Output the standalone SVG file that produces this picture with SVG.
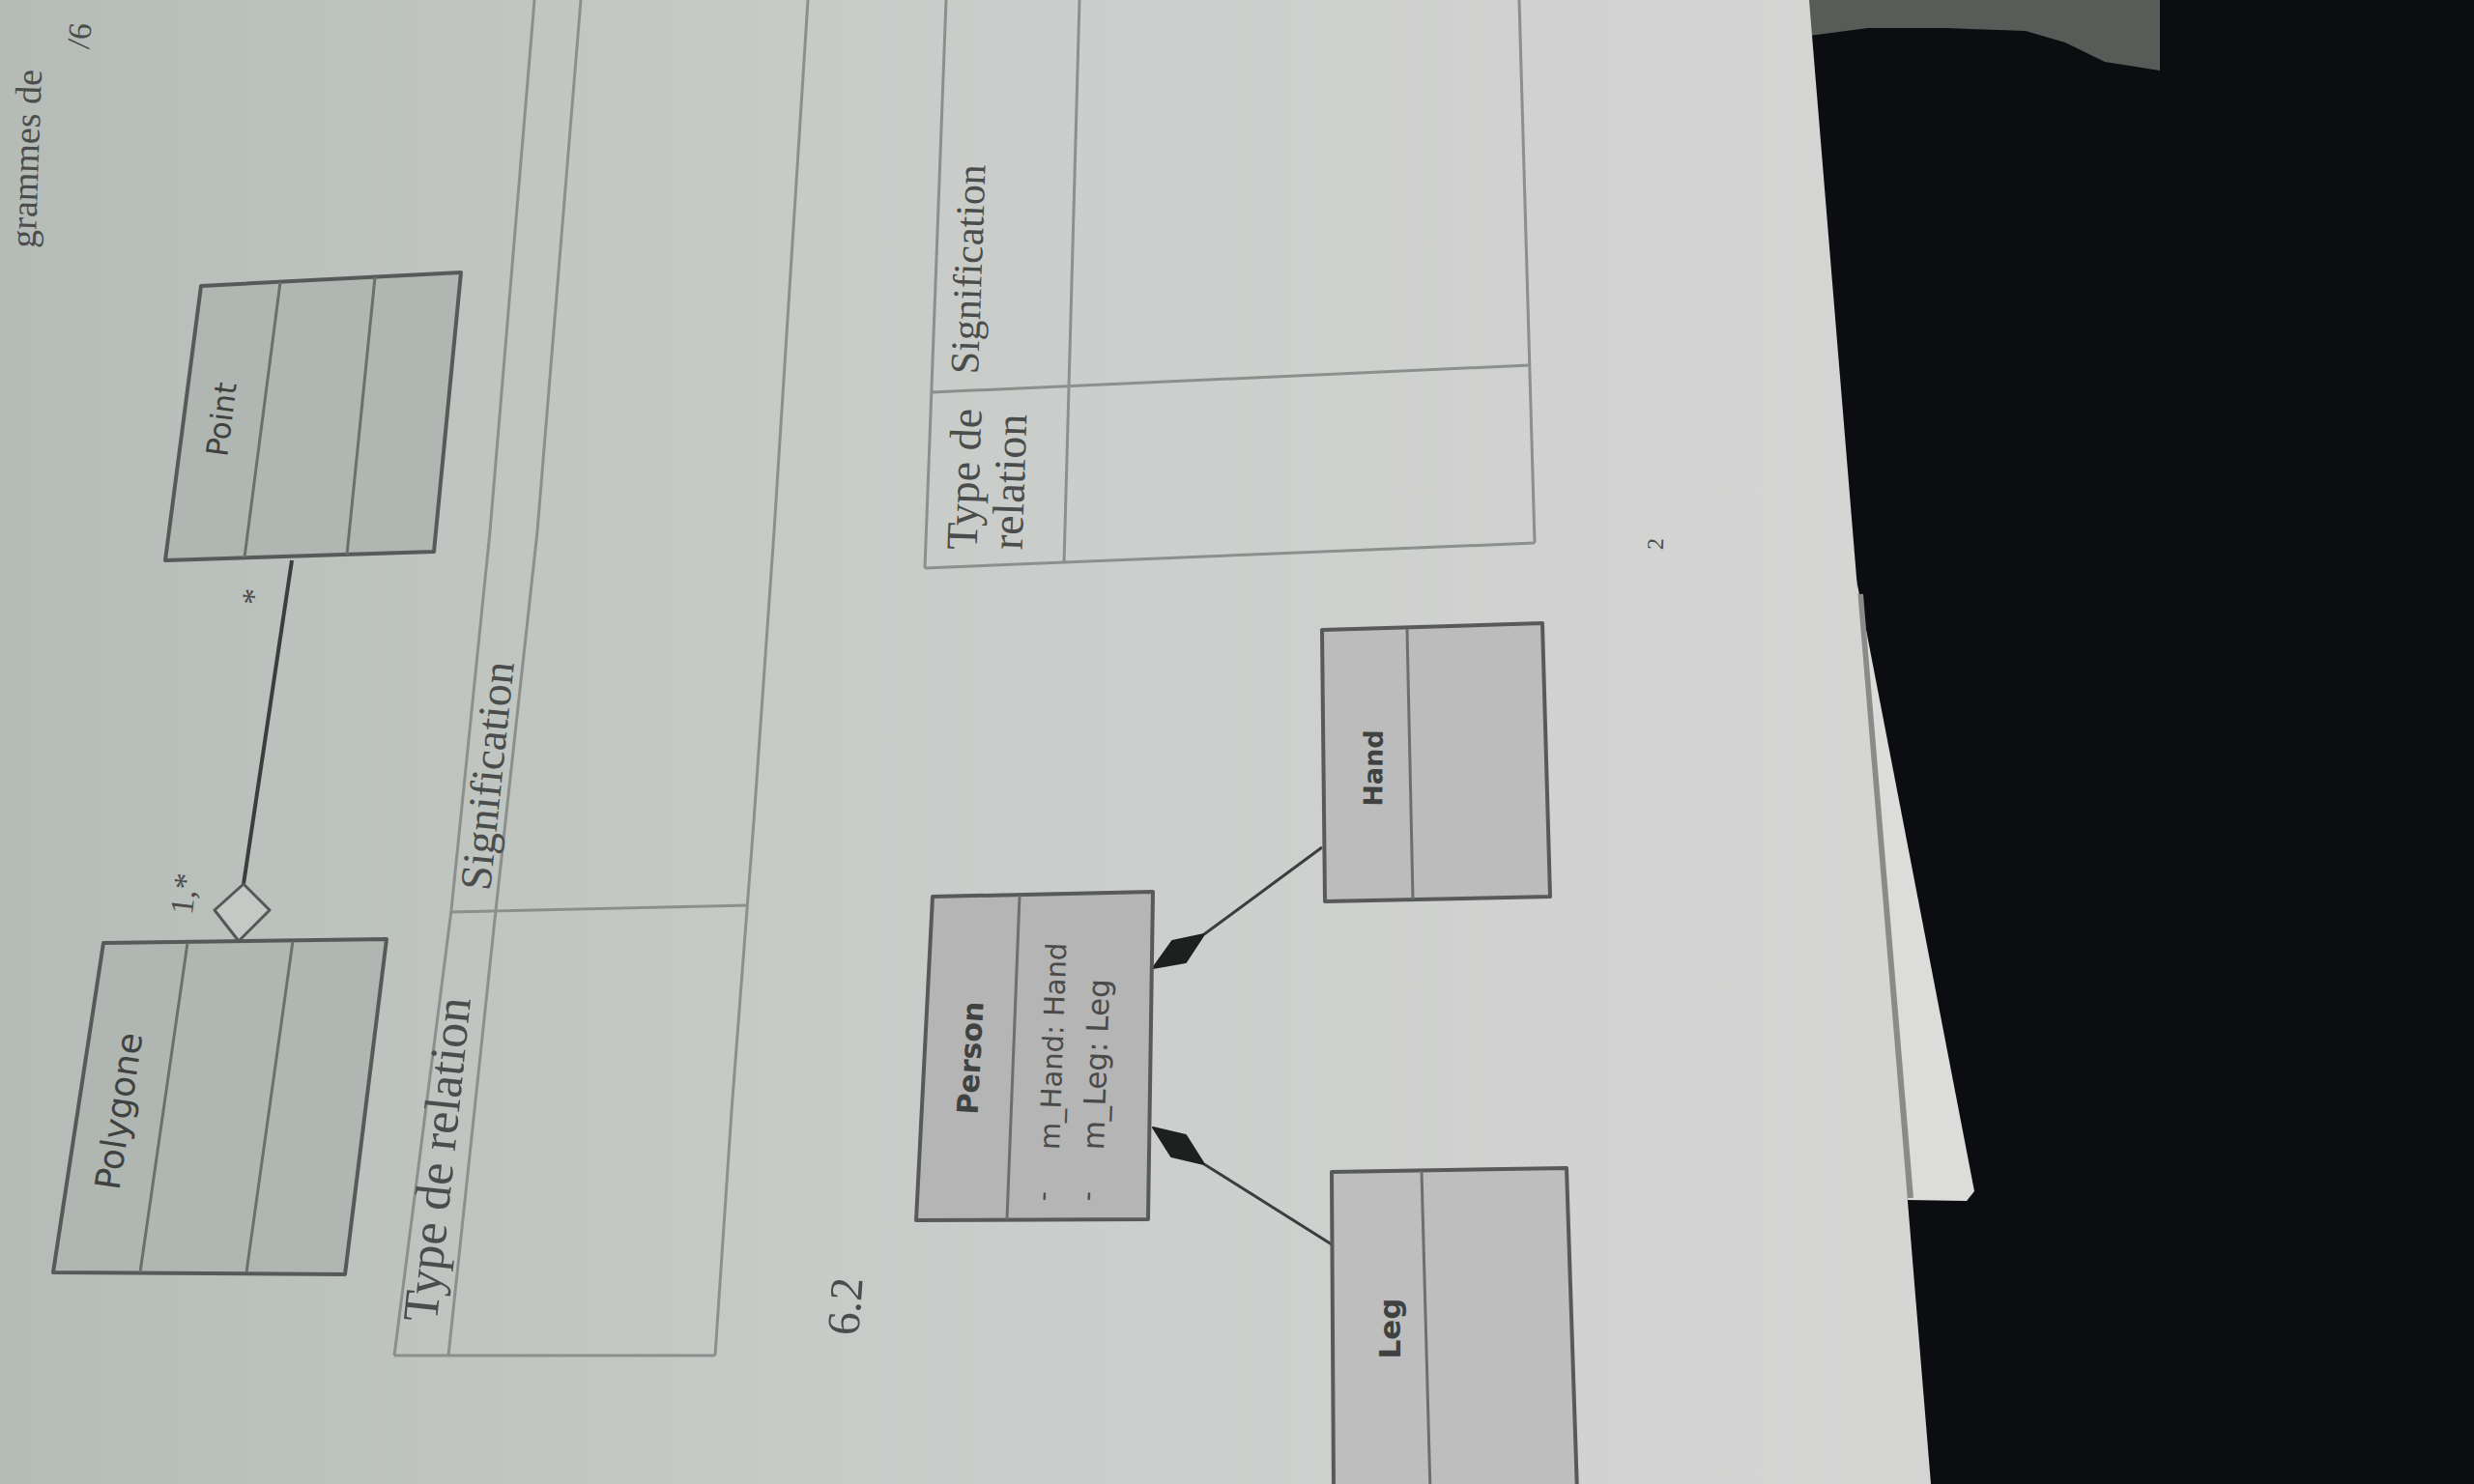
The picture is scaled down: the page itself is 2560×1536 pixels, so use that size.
<svg xmlns="http://www.w3.org/2000/svg" width="2560" height="1536" viewBox="0 0 2560 1536">
  <defs>
    <linearGradient id="paperGrad" gradientUnits="userSpaceOnUse" x1="0" y1="0" x2="1950" y2="0">
      <stop offset="0" stop-color="#b5bcb7"/>
      <stop offset="0.45" stop-color="#c8ccc9"/>
      <stop offset="1" stop-color="#d5d5d4"/>
    </linearGradient>
  </defs>
  <style>
    .tbl { fill: none; stroke: #8b908d; stroke-width: 3; stroke-linejoin: round; }
    .box { stroke: #575a58; stroke-width: 4; stroke-linejoin: round; }
    .div { stroke: #6c706d; stroke-width: 3; }
    .serif { font-family: "Liberation Serif", "DejaVu Serif", serif; fill: #4a4d4b; }
    .lbl { font-family: "DejaVu Sans", "Liberation Sans", sans-serif; font-weight: bold; fill: #3f4240; }
    .lbln { font-family: "DejaVu Sans", "Liberation Sans", sans-serif; fill: #3f4240; }
    .attr { font-family: "DejaVu Sans", "Liberation Sans", sans-serif; fill: #4a4a4a; }
    .conn { fill: none; stroke: #3c3e3d; }
  </style>

  <!-- background -->
  <rect x="0" y="0" width="2560" height="1536" fill="#0b0d10"/>
  <path d="M1872,0 L2235,0 L2235,73 L2178,64 L2137,44 L2096,32 L2014,29 L1933,29 L1872,37 Z" fill="#585c58"/>
  <polygon points="1921,600 2043,1233 2035,1243 1974,1242" fill="#dcdcda"/>
  <line x1="1924" y1="615" x2="1976" y2="1240" stroke="#8a8b89" stroke-width="8"/>
  <polygon points="0,0 1872,0 1998,1536 0,1536" fill="url(#paperGrad)"/>

  <!-- page header -->
  <g id="header">
    <text class="serif" font-size="38" text-anchor="end" dominant-baseline="central" transform="translate(30,72) rotate(-88)">grammes de</text>
    <text class="serif" font-size="34" text-anchor="middle" dominant-baseline="central" transform="translate(82,37) rotate(-84)">/6</text>
  </g>

  <!-- table 1 -->
  <g id="table1">
    <path class="tbl" d="M553,0 L507,550 L467,942 L408,1403"/>
    <path class="tbl" d="M601,0 L556,550 L513,942 L464,1403"/>
    <path class="tbl" d="M836,0 L801,550 L780,850 L757,1150 L740,1403"/>
    <path class="tbl" d="M466,944 L773,937"/>
    <path class="tbl" d="M408,1403 L740,1403"/>
    <text class="serif" font-size="52" text-anchor="middle" dominant-baseline="central" transform="translate(452,1200) rotate(-84)">Type de relation</text>
    <text class="serif" font-size="46" text-anchor="middle" dominant-baseline="central" transform="translate(504,803) rotate(-84)">Signification</text>
  </g>

  <!-- table 2 -->
  <g id="table2">
    <path class="tbl" d="M979,0 L957,588"/>
    <path class="tbl" d="M1117,0 L1101,583"/>
    <path class="tbl" d="M1572,0 L1588,562"/>
    <path class="tbl" d="M957,588 L1588,562"/>
    <path class="tbl" d="M964,406 L1583,378"/>
    <text class="serif" font-size="46" text-anchor="start" dominant-baseline="central" transform="translate(995,569) rotate(-88)">Type de</text>
    <text class="serif" font-size="46" text-anchor="start" dominant-baseline="central" transform="translate(1042,569) rotate(-88)">relation</text>
    <text class="serif" font-size="42" text-anchor="start" dominant-baseline="central" transform="translate(998,387) rotate(-88)">Signification</text>
  </g>

  <text class="serif" font-size="48" text-anchor="middle" dominant-baseline="central" transform="translate(874,1352) rotate(-86)">6.2</text>
  <text class="serif" font-size="24" text-anchor="middle" dominant-baseline="central" fill="#7a7a7a" transform="translate(1713,563) rotate(-88)">2</text>

  <!-- connectors -->
  <g id="connectors">
    <path class="conn" stroke-width="4" d="M252,915 L302,580"/>
    <polygon points="247,974 279,942 252,915 222,942" fill="#c4c9c5" stroke="#555856" stroke-width="3" stroke-linejoin="round"/>
    <text class="serif" font-size="34" text-anchor="middle" dominant-baseline="central" transform="translate(190,925) rotate(-83)">1,*</text>
    <text class="serif" font-size="34" text-anchor="middle" dominant-baseline="central" transform="translate(262,618) rotate(-83)">*</text>

    <path class="conn" stroke-width="3" d="M1246,967 L1368,877"/>
    <polygon points="1193,1002 1227,996 1246,967 1213,974" fill="#1e1f1f" stroke="#1e1f1f" stroke-width="2" stroke-linejoin="round"/>
    <path class="conn" stroke-width="3" d="M1246,1205 L1378,1288"/>
    <polygon points="1193,1167 1212,1197 1246,1205 1227,1175" fill="#1e1f1f" stroke="#1e1f1f" stroke-width="2" stroke-linejoin="round"/>
  </g>

  <!-- nodes -->
  <g id="point">
    <polygon class="box" points="208,296 477,282 449,571 171,580" fill="#b0b6b2"/>
    <line class="div" x1="290" y1="292" x2="253" y2="577"/>
    <line class="div" x1="388" y1="287" x2="359" y2="574"/>
    <text class="lbln" font-size="31" text-anchor="middle" dominant-baseline="central" transform="translate(229,434) rotate(-82.6)">Point</text>
  </g>

  <g id="polygone">
    <polygon class="box" points="107,976 400,972 357,1319 55,1317" fill="#b0b6b2"/>
    <line class="div" x1="194" y1="976" x2="145" y2="1317"/>
    <line class="div" x1="303" y1="974" x2="255" y2="1317"/>
    <text class="lbln" font-size="36" text-anchor="middle" dominant-baseline="central" transform="translate(123,1150) rotate(-81.5)">Polygone</text>
  </g>

  <g id="person">
    <polygon class="box" points="965,928 1193,923 1188,1262 948,1263" fill="#b4b5b4"/>
    <line class="div" x1="1055" y1="927" x2="1042" y2="1262"/>
    <text class="lbl" font-size="30" text-anchor="middle" dominant-baseline="central" transform="translate(1004,1095) rotate(-87)">Person</text>
    <text class="attr" font-size="28" text-anchor="middle" dominant-baseline="central" transform="translate(1079,1238) rotate(-88)">-</text>
    <text class="attr" font-size="28" text-anchor="middle" dominant-baseline="central" transform="translate(1125,1238) rotate(-88)">-</text>
    <text class="attr" font-size="29" text-anchor="start" dominant-baseline="central" transform="translate(1086,1190) rotate(-88)">m_Hand: Hand</text>
    <text class="attr" font-size="31" text-anchor="start" dominant-baseline="central" transform="translate(1131,1190) rotate(-88)">m_Leg: Leg</text>
  </g>

  <g id="hand">
    <polygon class="box" points="1368,652 1596,645 1604,928 1371,933" fill="#bcbcbc"/>
    <line class="div" x1="1456" y1="651" x2="1462" y2="931"/>
    <text class="lbl" font-size="27" text-anchor="middle" dominant-baseline="central" transform="translate(1421,795) rotate(-89.5)">Hand</text>
  </g>

  <g id="leg">
    <polygon class="box" points="1378,1213 1621,1209 1632,1545 1380,1545" fill="#bdbebd"/>
    <line class="div" x1="1471" y1="1212" x2="1480" y2="1545"/>
    <text class="lbl" font-size="31" text-anchor="middle" dominant-baseline="central" transform="translate(1438,1375) rotate(-90)">Leg</text>
  </g>
</svg>
